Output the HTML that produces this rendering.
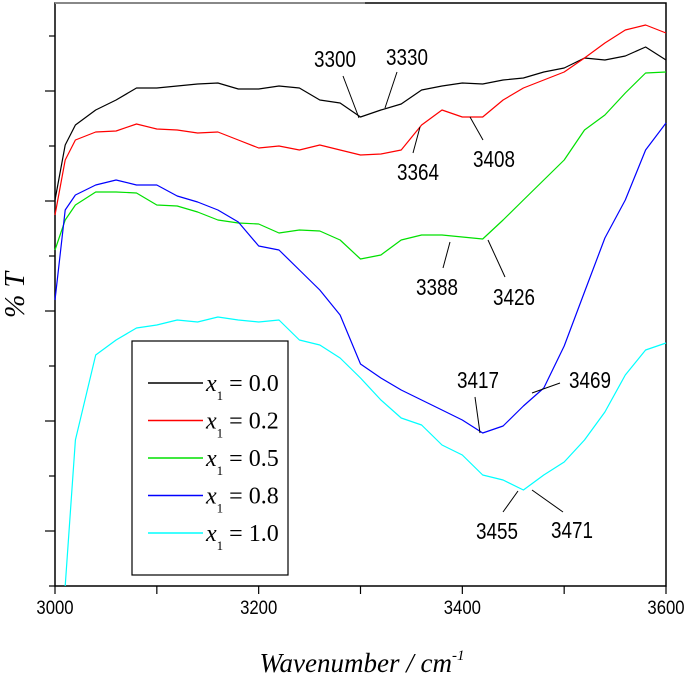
<!DOCTYPE html>
<html><head><meta charset="utf-8">
<style>
html,body{margin:0;padding:0;background:#fff;}
svg{display:block;}
.ann{font-family:"Liberation Sans",sans-serif;font-size:23px;fill:#000;}
.tick{font-family:"Liberation Sans",sans-serif;font-size:19px;fill:#000;}
</style></head>
<body>
<svg id="chart" width="685" height="679" viewBox="0 0 685 679"></svg>
<script>
const wavenumbers = [3000,3010,3020,3040,3060,3080,3100,3120,3140,3160,3180,3200,3220,3240,3260,3280,3300,3320,3340,3360,3380,3400,3420,3440,3460,3480,3500,3520,3540,3560,3580,3600];
const seriesX00 = [386,441,461,476,486,498,498,500,502,503,497,497,500,498,486,483,469,476,482,496,500,503,502,506,508,514,518,528,526,530,539,526];
const seriesX02 = [371,426,446,454,455,462,457,456,453,454,446,438,440,436,441,436,431,432,436,461,476,469,469,486,498,506,514,528,543,556,561,553];
const seriesX05 = [336,366,381,394,394,393,381,380,374,366,363,362,353,356,355,346,327,331,346,351,351,349,347,366,386,406,426,456,471,493,513,514];
const seriesX08 = [286,376,391,401,406,401,401,390,384,376,364,340,336,316,296,271,222,208,196,186,176,166,153,160,180,198,240,294,348,386,436,463];
const seriesX10 = [null,0,146,231,246,258,261,266,264,269,266,264,266,246,241,228,208,186,168,161,141,131,111,106,96,111,124,146,174,211,236,243];
const seriesLabels = ["x1 = 0.0","x1 = 0.2","x1 = 0.5","x1 = 0.8","x1 = 1.0"];
const seriesColors = ["#000000","#ff0000","#00e000","#0000ff","#00ffff"];
const xTickValues = [3000,3100,3200,3300,3400,3500,3600];
const xTickLabels = ["3000","","3200","","3400","","3600"];
const annotations = [
 {text:"3300", lx:335, ly:67, x1:343,y1:76, x2:359,y2:118},
 {text:"3330", lx:407, ly:65, x1:397,y1:72, x2:385,y2:108},
 {text:"3364", lx:418, ly:180, x1:420,y1:127, x2:413,y2:153},
 {text:"3408", lx:494, ly:167, x1:470,y1:117, x2:483,y2:140},
 {text:"3388", lx:437, ly:295, x1:450,y1:242, x2:443,y2:268},
 {text:"3426", lx:514, ly:305, x1:488,y1:240, x2:505,y2:277},
 {text:"3417", lx:478, ly:388, x1:475,y1:397, x2:480,y2:433},
 {text:"3469", lx:590, ly:388, x1:532,y1:393, x2:560,y2:383},
 {text:"3455", lx:497, ly:539, x1:518,y1:491, x2:503,y2:512},
 {text:"3471", lx:572, ly:538, x1:532,y1:490, x2:563,y2:512}
];
const L=55,R=666,T=3,B=586;
const xS=w=>L+(w-3000)/600*(R-L);
const yS=v=>B-v;
const svg=document.getElementById('chart');
const NS='http://www.w3.org/2000/svg';
function mk(tag,attrs,parent){const e=document.createElementNS(NS,tag);for(const k in attrs)e.setAttribute(k,attrs[k]);(parent||svg).appendChild(e);return e;}
let e=mk('rect',{x:L,y:T,width:R-L,height:B-T,fill:'none',stroke:'#000','stroke-width':1.5});


e=mk('line',{x1:L,y1:T,x2:365,y2:T,stroke:'#888','stroke-width':2});


for(let i=0;i<11;i++){const y=B-i*55;const len=(i%2===1)?10:6;
 e=mk('line',{x1:L-len,y1:y,x2:L,y2:y,stroke:'#000','stroke-width':1.2});
 
 }
xTickValues.forEach((v,i)=>{const x=xS(v);
 e=mk('line',{x1:x,y1:B,x2:x,y2:B+8,stroke:'#000','stroke-width':1.2});
 
 
 if(xTickLabels[i]){e=mk('text',{x:x,y:B+28,'text-anchor':'middle',class:'tick',transform:`translate(${x},0) scale(0.88,1) translate(${-x},0)`});e.textContent=xTickLabels[i];
 
 }
});
[seriesX00,seriesX02,seriesX05,seriesX08,seriesX10].forEach((s,i)=>{
 let d='';s.forEach((v,j)=>{if(v===null)return;d+=(d?'L':'M')+xS(wavenumbers[j]).toFixed(1)+','+yS(v).toFixed(1);});
 e=mk('path',{d:d,fill:'none',stroke:seriesColors[i],'stroke-width':1.2,'stroke-linejoin':'round'});
 
 
});
annotations.forEach(a=>{
 e=mk('line',{x1:a.x1,y1:a.y1,x2:a.x2,y2:a.y2,stroke:'#000','stroke-width':1});
 
 
 e=mk('text',{x:a.lx,y:a.ly,'text-anchor':'middle',class:'ann',transform:`translate(${a.lx},0) scale(0.82,1) translate(${-a.lx},0)`});e.textContent=a.text;
 
 
});
e=mk('rect',{x:132,y:341,width:156,height:234,fill:'#fff',stroke:'#000','stroke-width':1.2});


seriesLabels.forEach((lab,i)=>{const y=383+i*37.5;
 e=mk('line',{x1:148,y1:y,x2:203,y2:y,stroke:seriesColors[i],'stroke-width':1.5});
 
 
 const t=mk('text',{x:206,y:y+8,'font-family':'Liberation Serif, serif','font-size':'24',fill:'#000'});
 
 
 t.innerHTML=`<tspan font-style="italic">x</tspan><tspan font-size="13" dy="9">1</tspan><tspan dy="-9"> = ${lab.split('= ')[1]}</tspan>`;
});
e=mk('text',{x:362,y:672,'text-anchor':'middle','font-family':'Liberation Serif, serif','font-style':'italic','font-size':'27',fill:'#000'});
e.innerHTML='Wavenumber / cm<tspan font-size="15" dy="-12">-1</tspan>';


e=mk('text',{x:24,y:295,'text-anchor':'middle','font-family':'Liberation Serif, serif','font-style':'italic','font-size':'28',fill:'#000',transform:'rotate(-90 24 295)'});
e.textContent='% T';


</script>
</body></html>
